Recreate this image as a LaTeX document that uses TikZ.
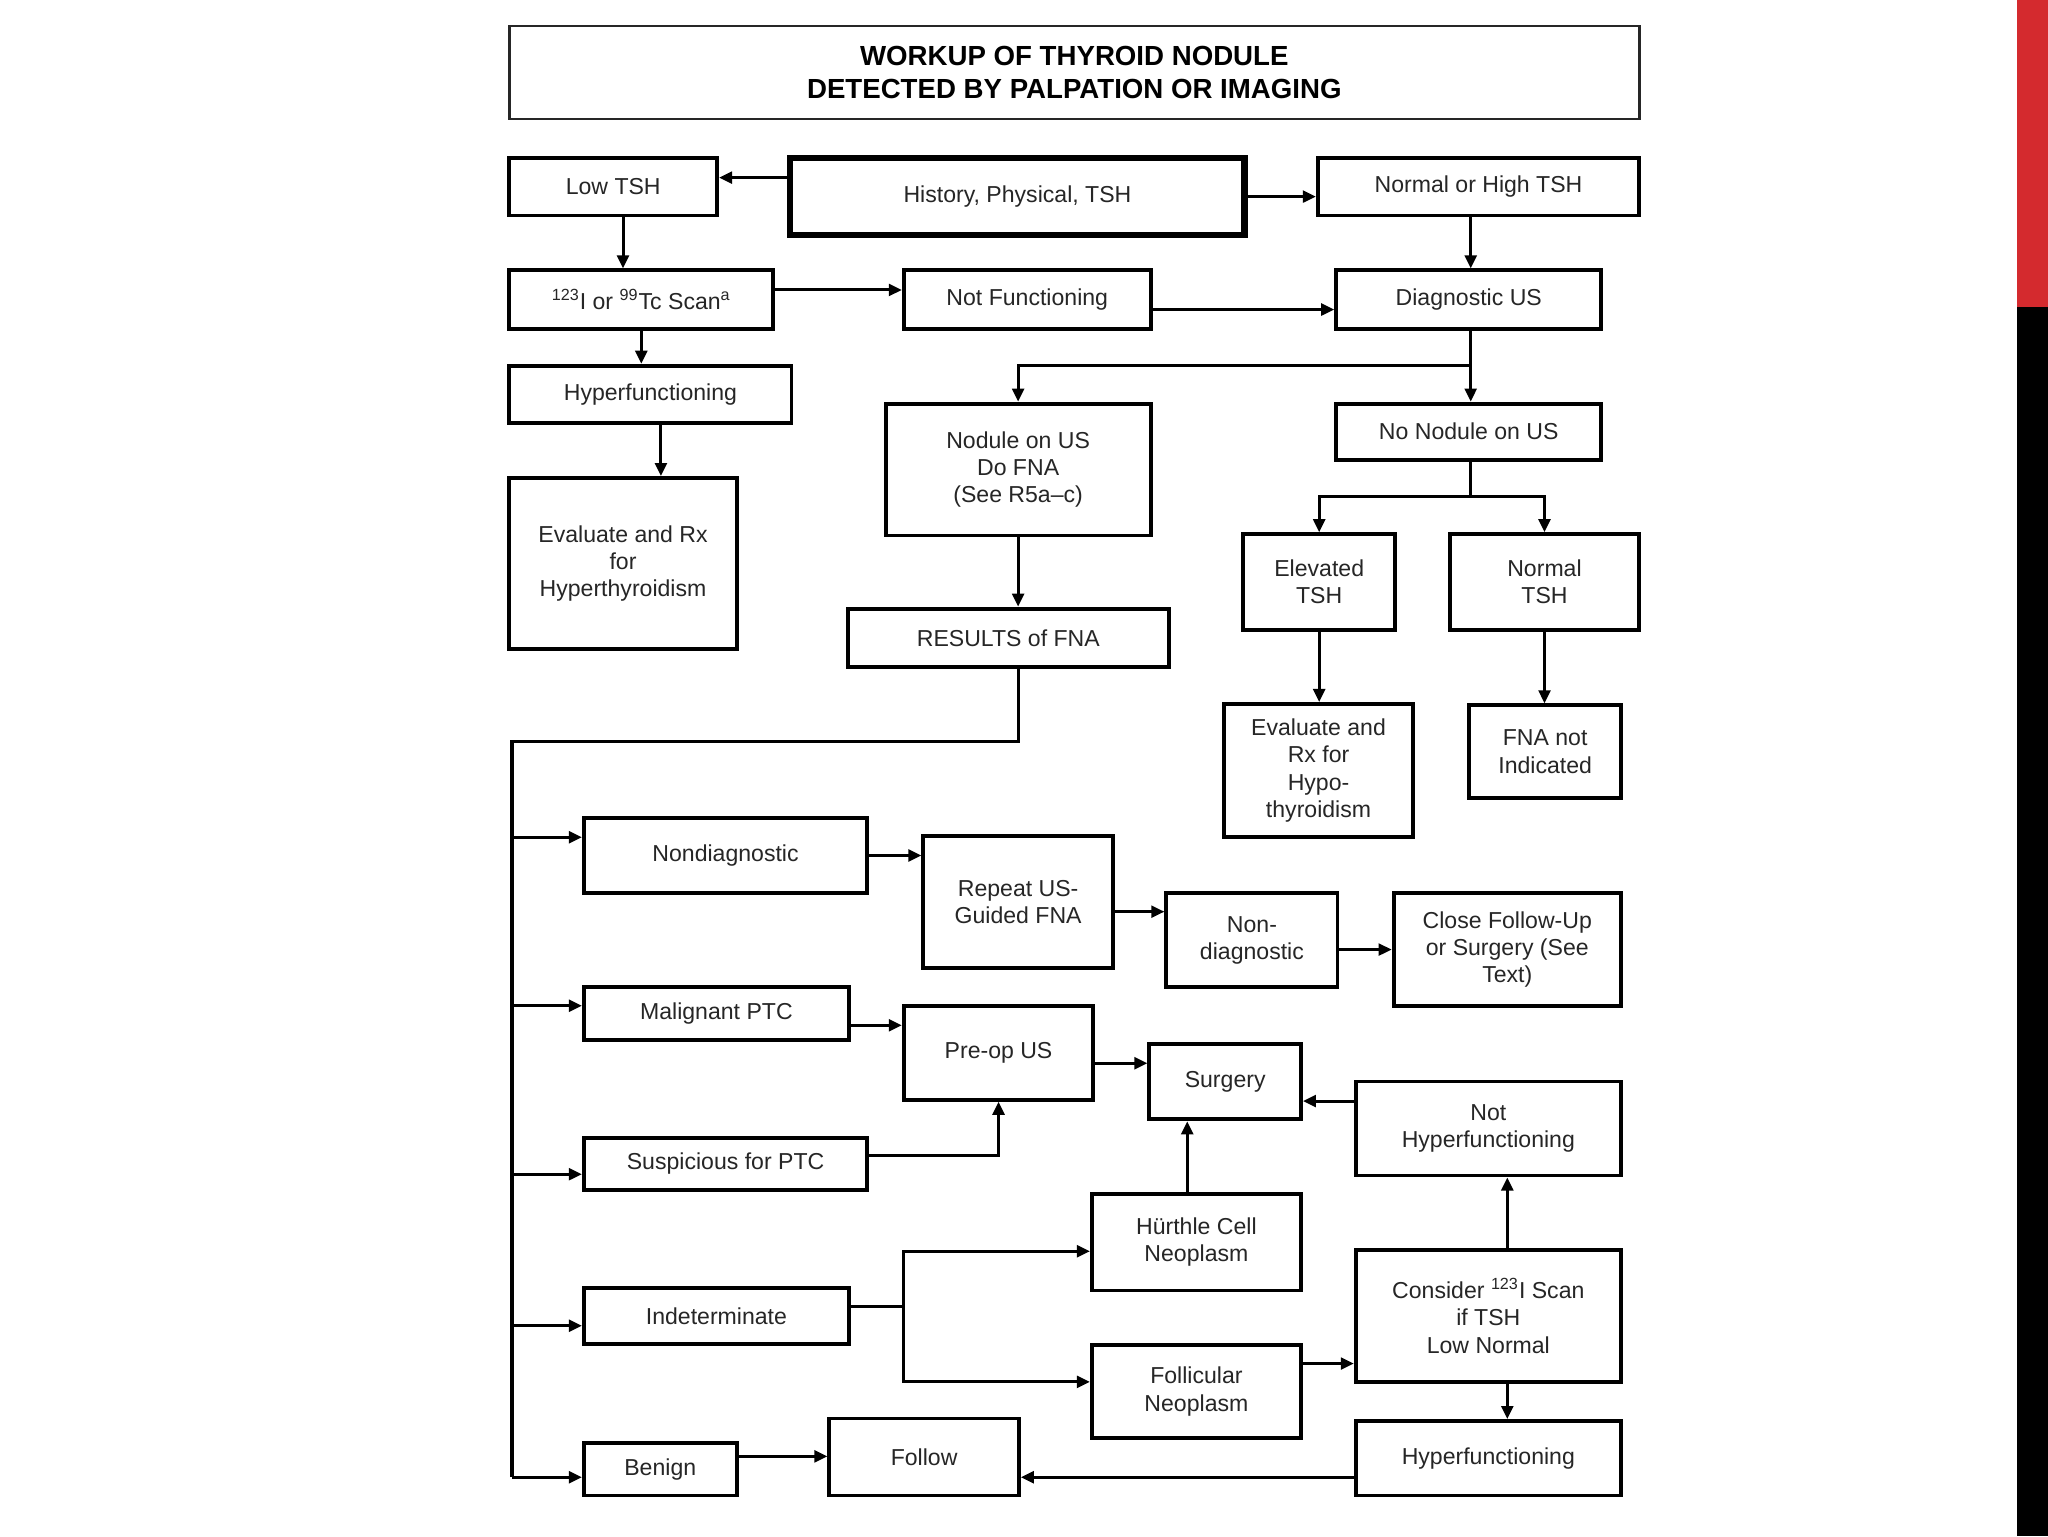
\documentclass[tikz,border=0pt]{standalone}
\usepackage{fontspec}
\setmainfont{Liberation Sans}
\usetikzlibrary{arrows.meta}
\definecolor{barred}{RGB}{212,42,46}
\tikzset{
  box/.style={draw=black,line width=1.8pt,fill=white,inner sep=0pt,align=center,
    text=black!85,font=\fontsize{10.6}{12.6}\selectfont},
  thickbox/.style={box,line width=3pt},
  titlebox/.style={draw=black!85,line width=1.2pt,inner sep=0pt,align=center,
    font=\fontsize{12.7}{15.6}\selectfont\bfseries},
  conn/.style={line width=1.4pt},
  arr/.style={conn,-{Triangle[length=6pt,width=5.4pt]}}
}
\newcommand\bx[7][box]{\node[#1,minimum width={0.6pt*(#5-#3)},minimum height={0.6pt*(#6-#4)}] (#2) at ({(#3+#5)/2},{(#4+#6)/2}) {#7};}
\begin{document}
\begin{tikzpicture}[x=0.6pt,y=-0.6pt]
\fill[white] (0,0) rectangle (1568,1176);
\useasboundingbox (0,0) rectangle (1568,1176);
\fill[barred] (1544,0) rectangle (1568,235);
\fill[black] (1544,235) rectangle (1568,1176);

\bx[titlebox]{title}{390}{20}{1255}{91}{WORKUP OF THYROID NODULE\\DETECTED BY PALPATION OR IMAGING}
\bx{low}{390}{121}{549}{165}{Low TSH}
\bx[thickbox]{hist}{605}{121}{953}{180}{History, Physical, TSH}
\bx{nh}{1009}{121}{1255}{165}{Normal or High TSH}
\bx{scan}{390}{207}{592}{252}{\textsuperscript{123}I or \textsuperscript{99}Tc Scan\textsuperscript{a}}
\bx{notf}{692}{207}{881}{252}{Not Functioning}
\bx{dus}{1023}{207}{1226}{252}{Diagnostic US}
\bx{hypa}{390}{280}{606}{324}{Hyperfunctioning}
\bx{evh}{390}{366}{564}{497}{Evaluate and Rx\\for\\Hyperthyroidism}
\bx{nod}{678}{309}{881}{410}{Nodule on US\\Do FNA\\(See R5a–c)}
\bx{nonod}{1023}{309}{1226}{352}{No Nodule on US}
\bx{elev}{952}{409}{1068}{482}{Elevated\\TSH}
\bx{norm}{1110}{409}{1255}{482}{Normal\\TSH}
\bx{evhypo}{937}{539}{1082}{641}{Evaluate and\\Rx for\\Hypo-\\thyroidism}
\bx{fna}{1125}{540}{1241}{611}{FNA not\\Indicated}
\bx{res}{649}{466}{895}{511}{RESULTS of FNA}
\bx{nd}{447}{626}{664}{684}{Nondiagnostic}
\bx{rep}{707}{640}{852}{741}{Repeat US-\\Guided FNA}
\bx{ndb}{893}{684}{1024}{756}{Non-\\diagnostic}
\bx{close}{1067}{684}{1241}{770}{Close Follow-Up\\or Surgery (See\\Text)}
\bx{mal}{447}{756}{650}{796}{Malignant PTC}
\bx{pre}{692}{770}{837}{842}{Pre-op US}
\bx{surg}{880}{799}{996}{857}{Surgery}
\bx{nhf}{1038}{828}{1241}{900}{Not\\Hyperfunctioning}
\bx{sus}{447}{871}{664}{911}{Suspicious for PTC}
\bx{hur}{836}{914}{996}{988}{Hürthle Cell\\Neoplasm}
\bx{ind}{447}{986}{650}{1029}{Indeterminate}
\bx{fol}{836}{1030}{996}{1101}{Follicular\\Neoplasm}
\bx{con}{1038}{957}{1241}{1058}{Consider \textsuperscript{123}I Scan\\if TSH\\Low Normal}
\bx{hypb}{1038}{1088}{1241}{1145}{Hyperfunctioning}
\bx{fol2}{635}{1086}{780}{1145}{Follow}
\bx{ben}{447}{1105}{564}{1145}{Benign}

% top part
\draw[arr] (hist.west |- 0,136) -- (low.east |- 0,136);
\draw[arr] (hist.east) -- (nh.west |- hist.east);
\draw[arr] (low.south -| 477,0) -- (scan.north -| 477,0);
\draw[arr] (nh.south -| 1126,0) -- (dus.north -| 1126,0);
\draw[arr] (scan.east |- 0,222) -- (notf.west |- 0,222);
\draw[arr] (notf.east |- 0,237) -- (dus.west |- 0,237);
\draw[arr] (scan.south -| 491,0) -- (hypa.north -| 491,0);
\draw[arr] (hypa.south -| 506,0) -- (evh.north -| 506,0);
\draw[arr] (dus.south -| 1126,0) -- (nonod.north -| 1126,0);
\draw[arr] (dus.south -| 1126,0) -- (1126,280) -| (nod.north);
\draw[conn] (nonod.south -| 1126,0) -- (1126,380);
\draw[arr] (1126,380) -| (elev.north);
\draw[arr] (1126,380) -| (norm.north);
\draw[arr] (elev.south) -- (evhypo.north -| elev.south);
\draw[arr] (norm.south) -- (fna.north -| norm.south);
\draw[arr] (nod.south) -- (res.north -| nod.south);

% trunk
\coordinate (tk) at (392,568);
\draw[conn] (res.south -| nod.south) |- (tk) -- (392,1131);
\draw[arr] (tk |- 0,641) -- (nd.west |- 0,641);
\draw[arr] (tk |- 0,770) -- (mal.west |- 0,770);
\draw[arr] (tk |- 0,899) -- (sus.west |- 0,899);
\draw[arr] (tk |- 0,1015) -- (ind.west |- 0,1015);
\draw[arr] (tk |- 0,1131) -- (ben.west |- 0,1131);

% results branches
\draw[arr] (nd.east) -- (rep.west |- nd.east);
\draw[arr] (rep.east |- 0,698) -- (ndb.west |- 0,698);
\draw[arr] (ndb.east |- close.west) -- (close.west);
\draw[arr] (mal.east |- 0,785) -- (pre.west |- 0,785);
\draw[arr] (pre.east |- 0,814) -- (surg.west |- 0,814);
\draw[arr] (nhf.west |- 0,843) -- (surg.east |- 0,843);
\draw[arr] (sus.east |- 0,885) -| (pre.south);
\draw[arr] (hur.north -| 909,0) -- (surg.south -| 909,0);
\draw[conn] (ind.east |- 0,1000) -- (692,1000);
\draw[arr] (692,1000) |- (hur.west |- 0,958);
\draw[arr] (692,1000) |- (fol.west |- 0,1058);
\draw[arr] (fol.east |- 0,1044) -- (con.west |- 0,1044);
\draw[arr] (con.north -| 1154,0) -- (nhf.south -| 1154,0);
\draw[arr] (con.south -| 1154,0) -- (hypb.north -| 1154,0);
\draw[arr] (hypb.west |- 0,1131) -- (fol2.east |- 0,1131);
\draw[arr] (ben.east |- 0,1115) -- (fol2.west |- 0,1115);
\end{tikzpicture}
\end{document}
